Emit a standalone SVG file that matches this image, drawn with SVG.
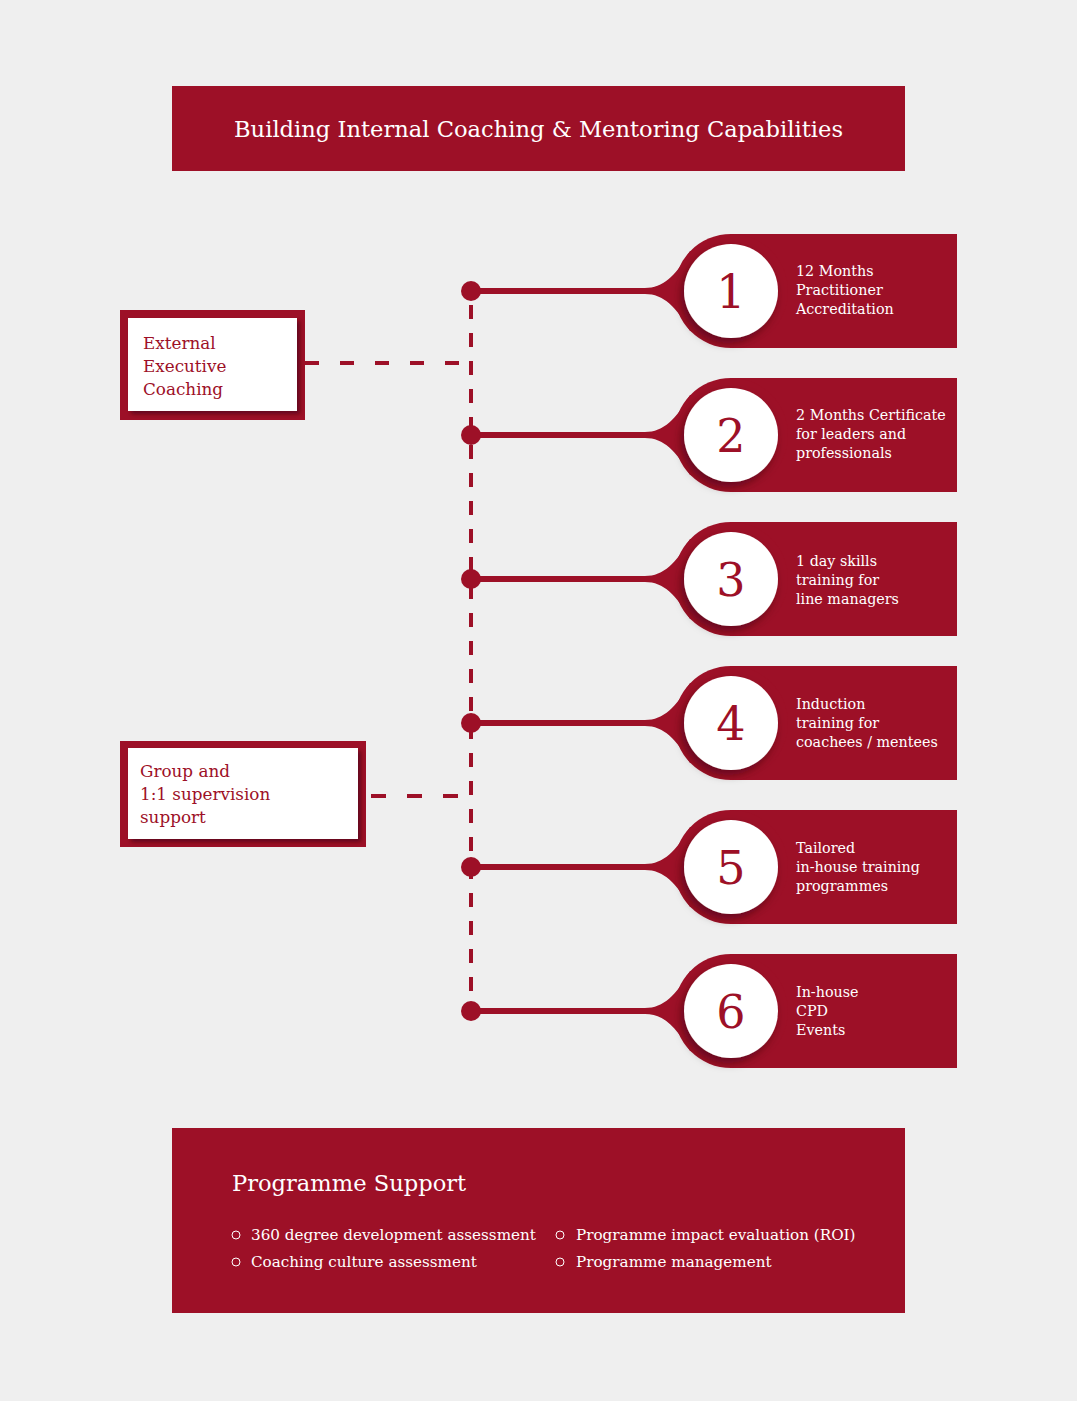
<svg xmlns="http://www.w3.org/2000/svg" width="1077" height="1401" viewBox="0 0 1077 1401">
<defs>
<style>
.red{fill:#9d1027}
.t{font-family:"DejaVu Serif","Liberation Serif",serif}
.w{fill:#ffffff}
.tab{font-size:14.3px;fill:#ffffff}
.num{font-size:46px;fill:#9d1027;text-anchor:middle}
.lbl{font-size:16.8px;fill:#9d1027}
.bul{font-size:15.2px;fill:#ffffff}
.conn{stroke:#9d1027;fill:none}
</style>
<filter id="sh" x="-30%" y="-30%" width="160%" height="160%">
<feDropShadow dx="-3" dy="5" stdDeviation="4" flood-color="#3a0009" flood-opacity="0.55"/>
</filter>
<filter id="bsh" x="-10%" y="-10%" width="130%" height="130%">
<feDropShadow dx="3" dy="3" stdDeviation="2" flood-color="#3a0009" flood-opacity="0.6"/>
</filter>
<g id="tabshape">
<rect x="731" y="-57" width="226" height="114"/>
<circle cx="731" cy="0" r="57"/>
<path d="M645 -3 C664 -3 676 -16 690 -40 L696 -40 L696 40 L690 40 C676 16 664 3 645 3 Z"/>
</g>
</defs>
<rect x="0" y="0" width="1077" height="1401" fill="#efefef"/>

<g id="title">
<rect x="172" y="86" width="733" height="85" class="red"/>
<text x="538.5" y="137" class="t w" font-size="22.6" text-anchor="middle">Building Internal Coaching &amp; Mentoring Capabilities</text>
</g>

<g id="connectors">
<line x1="471" y1="291" x2="471" y2="1011" class="conn" stroke-width="4" stroke-dasharray="14 14" stroke-dashoffset="-14"/>
<line x1="305" y1="363" x2="471" y2="363" class="conn" stroke-width="4" stroke-dasharray="14 21"/>
<line x1="371" y1="796" x2="471" y2="796" class="conn" stroke-width="4" stroke-dasharray="15 21"/>
<g class="red">
<rect x="471" y="288" width="178" height="6"/><circle cx="471" cy="291" r="10"/>
<rect x="471" y="432" width="178" height="6"/><circle cx="471" cy="435" r="10"/>
<rect x="471" y="576" width="178" height="6"/><circle cx="471" cy="579" r="10"/>
<rect x="471" y="720" width="178" height="6"/><circle cx="471" cy="723" r="10"/>
<rect x="471" y="864" width="178" height="6"/><circle cx="471" cy="867" r="10"/>
<rect x="471" y="1008" width="178" height="6"/><circle cx="471" cy="1011" r="10"/>
</g>
</g>

<g id="ext">
<rect x="120" y="310" width="185" height="110" class="red"/>
<rect x="128" y="318" width="169" height="93" fill="#ffffff" filter="url(#bsh)"/>
<text class="t lbl"><tspan x="143" y="349">External</tspan><tspan x="143" y="372">Executive</tspan><tspan x="143" y="395">Coaching</tspan></text>
</g>

<g id="group">
<rect x="120" y="741" width="246" height="106" class="red"/>
<rect x="128" y="748" width="230" height="91" fill="#ffffff" filter="url(#bsh)"/>
<text class="t lbl"><tspan x="140" y="777">Group and</tspan><tspan x="140" y="800">1:1 supervision</tspan><tspan x="140" y="823">support</tspan></text>
</g>

<g id="step1" transform="translate(0,291)">
<use href="#tabshape" class="red"/>
<circle cx="731" cy="0" r="47" fill="#fff" filter="url(#sh)"/>
<text x="731" y="17" class="t num">1</text>
<text class="t tab"><tspan x="796" y="-15">12 Months</tspan><tspan x="796" y="4">Practitioner</tspan><tspan x="796" y="23">Accreditation</tspan></text>
</g>
<g id="step2" transform="translate(0,435)">
<use href="#tabshape" class="red"/>
<circle cx="731" cy="0" r="47" fill="#fff" filter="url(#sh)"/>
<text x="731" y="17" class="t num">2</text>
<text class="t tab"><tspan x="796" y="-15">2 Months Certificate</tspan><tspan x="796" y="4">for leaders and</tspan><tspan x="796" y="23">professionals</tspan></text>
</g>
<g id="step3" transform="translate(0,579)">
<use href="#tabshape" class="red"/>
<circle cx="731" cy="0" r="47" fill="#fff" filter="url(#sh)"/>
<text x="731" y="17" class="t num">3</text>
<text class="t tab"><tspan x="796" y="-13">1 day skills</tspan><tspan x="796" y="6">training for</tspan><tspan x="796" y="25">line managers</tspan></text>
</g>
<g id="step4" transform="translate(0,723)">
<use href="#tabshape" class="red"/>
<circle cx="731" cy="0" r="47" fill="#fff" filter="url(#sh)"/>
<text x="731" y="17" class="t num">4</text>
<text class="t tab"><tspan x="796" y="-14">Induction</tspan><tspan x="796" y="5">training for</tspan><tspan x="796" y="24">coachees / mentees</tspan></text>
</g>
<g id="step5" transform="translate(0,867)">
<use href="#tabshape" class="red"/>
<circle cx="731" cy="0" r="47" fill="#fff" filter="url(#sh)"/>
<text x="731" y="17" class="t num">5</text>
<text class="t tab"><tspan x="796" y="-14">Tailored</tspan><tspan x="796" y="5">in-house training</tspan><tspan x="796" y="24">programmes</tspan></text>
</g>
<g id="step6" transform="translate(0,1011)">
<use href="#tabshape" class="red"/>
<circle cx="731" cy="0" r="47" fill="#fff" filter="url(#sh)"/>
<text x="731" y="17" class="t num">6</text>
<text class="t tab"><tspan x="796" y="-14">In-house</tspan><tspan x="796" y="5">CPD</tspan><tspan x="796" y="24">Events</tspan></text>
</g>

<g id="support">
<rect x="172" y="1128" width="733" height="185" class="red"/>
<text x="232" y="1191" class="t w" font-size="22.6">Programme Support</text>
<g fill="none" stroke="#ffffff" stroke-width="1">
<circle cx="236" cy="1235" r="4"/><circle cx="236" cy="1262" r="4"/>
<circle cx="560" cy="1235" r="4"/><circle cx="560" cy="1262" r="4"/>
</g>
<text class="t bul"><tspan x="251" y="1240">360 degree development assessment</tspan><tspan x="251" y="1267">Coaching culture assessment</tspan></text>
<text class="t bul"><tspan x="576" y="1240">Programme impact evaluation (ROI)</tspan><tspan x="576" y="1267">Programme management</tspan></text>
</g>
</svg>
